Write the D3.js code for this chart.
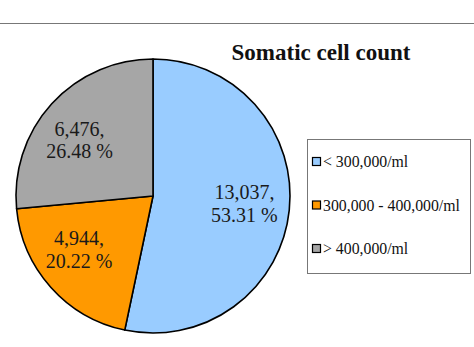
<!DOCTYPE html>
<html><head><meta charset="utf-8">
<script src="https://cdn.jsdelivr.net/npm/d3@7"></script>
<style>body{margin:0;background:#fff}svg{display:block}</style>
</head><body>
<svg id="c" width="474" height="347"></svg>
<script>
const categories = ["< 300,000/ml", "300,000 - 400,000/ml", "> 400,000/ml"];
const counts = [13037, 4944, 6476];
const percents = ["53.31 %", "20.22 %", "26.48 %"];
const countLabels = ["13,037,", "4,944,", "6,476,"];
const colors = ["#99CCFF", "#FF9900", "#A6A6A6"];
const title = "Somatic cell count";

const svg = d3.select("#c");
const W = 474, H = 347;
const font = "'Liberation Serif','Times New Roman',serif";

svg.append("line").attr("x1",0).attr("x2",W).attr("y1",23.5).attr("y2",23.5)
  .attr("stroke","#777").attr("stroke-width",1);

const cx = 153, cy = 196, r = 137;
const pie = d3.pie().sort(null).value(d=>d);
const arcs = pie(counts);
const arc = d3.arc().innerRadius(0).outerRadius(r);

const g = svg.append("g").attr("transform",`translate(${cx},${cy})`);
g.selectAll("path").data(arcs).join("path")
  .attr("d",arc).attr("fill",(d,i)=>colors[i])
  .attr("stroke","#000").attr("stroke-width",1.6).attr("stroke-linejoin","round");

// label placement: angle pulled slightly toward horizontal, like Excel's best fit
arcs.forEach((a,i)=>{
  const mid = (a.startAngle + a.endAngle)/2;
  const horiz = mid < Math.PI ? Math.PI/2 : 3*Math.PI/2;
  const ang = horiz + 0.87*(mid - horiz);
  const lr = r*0.67;
  const x = lr*Math.sin(ang), y = -lr*Math.cos(ang);
  const t = g.append("text").attr("text-anchor","middle")
    .attr("font-family",font).attr("font-size",20).attr("fill","#1a1a1a");
  t.append("tspan").attr("x",x).attr("y",y-5).text(countLabels[i]);
  t.append("tspan").attr("x",x).attr("y",y+17.5).text(percents[i]);
});

svg.append("text").attr("x",321).attr("y",60).attr("text-anchor","middle")
  .attr("font-family",font).attr("font-weight","bold").attr("font-size",23)
  .attr("fill","#111").text(title);

// legend
const lx = 307, ly = 139, lw = 163, lh = 134;
svg.append("rect").attr("x",lx+0.5).attr("y",ly+0.5).attr("width",lw).attr("height",lh)
  .attr("fill","#fff").attr("stroke","#777").attr("stroke-width",1);
const ys = d3.scalePoint().domain(categories).range([162,249]);
const lg = svg.append("g");
categories.forEach((c,i)=>{
  const y = ys(c);
  lg.append("rect").attr("x",312.5).attr("y",y-4.5).attr("width",8).attr("height",8)
    .attr("fill",colors[i]).attr("stroke","#000").attr("stroke-width",1.2);
  lg.append("text").attr("x",323).attr("y",y+5).attr("font-family",font)
    .attr("font-size",15.8).attr("fill","#111").text(c);
});
</script>
</body></html>
